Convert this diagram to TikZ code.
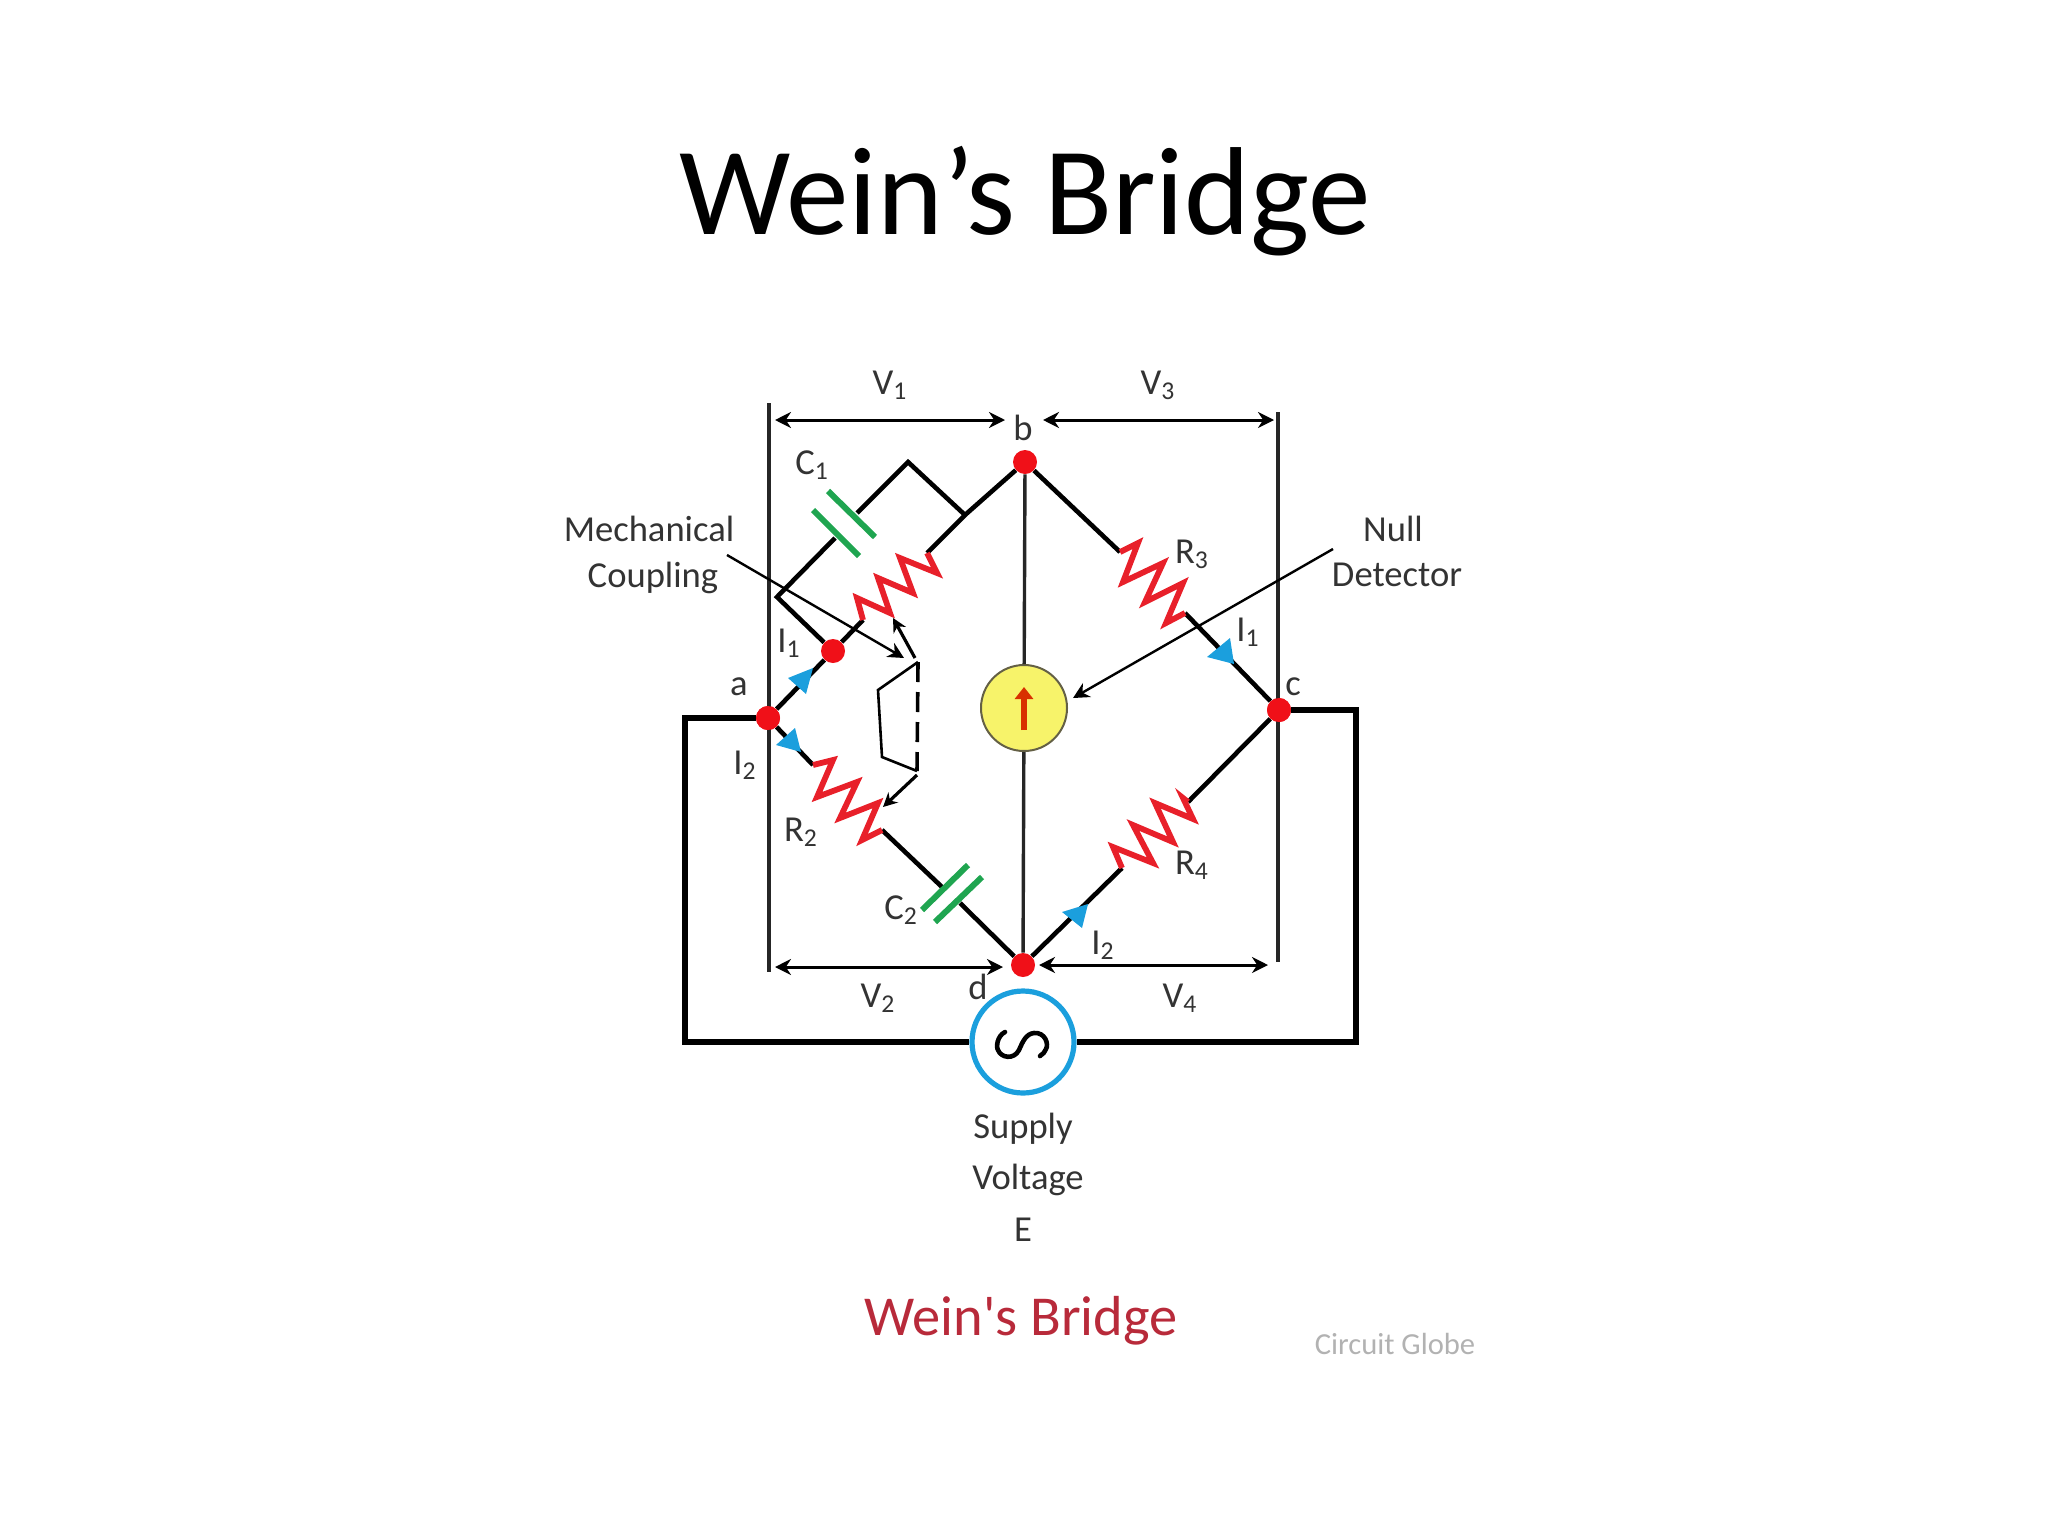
\documentclass[tikz,border=0pt]{standalone}
\usepackage{fontspec}
\setmainfont{Carlito}
\newfontfamily\plainf{Carlito}
\usetikzlibrary{arrows.meta}
\definecolor{wirered}{HTML}{E8202A}
\definecolor{dotred}{HTML}{F01018}
\definecolor{capgreen}{HTML}{1FA550}
\definecolor{tipblue}{HTML}{1B9FDD}
\definecolor{labelgray}{HTML}{333333}
\definecolor{meteryellow}{HTML}{F7F36A}
\definecolor{needlered}{HTML}{D83000}
\definecolor{captionred}{HTML}{B82A3A}
\tikzset{
  wire/.style={line width=2.3pt,black},
  thickwire/.style={line width=2.7pt,black,line join=miter},
  thinwire/.style={line width=1.7pt,black!85},
  res/.style={line width=2.9pt,wirered,line join=miter},
  capplate/.style={line width=3pt,capgreen},
  dim/.style={line width=1.5pt,black,{Stealth[length=8pt,width=8pt]}-{Stealth[length=8pt,width=8pt]}},
  lead/.style={line width=1.2pt,black,-{Stealth[length=8pt,width=8pt]}},
  mech/.style={line width=1.3pt,black},
  mecharrow/.style={line width=1.6pt,black,-{Stealth[length=7pt,width=7pt]}},
  junction/.style={circle,fill=dotred,inner sep=0pt,minimum size=12pt},
  tri/.style={fill=tipblue,draw=none},
  lab/.style={text=labelgray,font=\fontsize{18.3}{20}\selectfont,inner sep=0pt},
}
\begin{document}
\begin{tikzpicture}[x=0.5pt,y=-0.5pt]
\useasboundingbox (0,0) rectangle (2048,1536);
% title
\node[inner sep=0pt,font=\fontsize{62.6}{70}\selectfont] (title) at (1025,201) {Wein’s Bridge};
% junctions and main elements
\node[junction] (a) at (768,718) {};
\node[junction] (a2) at (833,651) {};
\node[junction] (b) at (1025,462) {};
\node[junction] (c) at (1279,710) {};
\node[junction] (d) at (1023,965) {};
\node[circle,draw=black!70!yellow,line width=1pt,fill=meteryellow,minimum size=43pt,inner sep=0pt] (g) at (1024,708) {};
\node[circle,draw=tipblue,line width=2.6pt,fill=white,minimum size=51pt,inner sep=0pt] (s) at (1023,1042) {};
% reference coordinates
\coordinate (r1s) at (863,620); \coordinate (r1e) at (927,553);
\coordinate (r2s) at (813,765); \coordinate (r2e) at (882,830);
\coordinate (r3s) at (1120,552); \coordinate (r3e) at (1185,613);
\coordinate (r4s) at (1188,802); \coordinate (r4e) at (1122,868);
\coordinate (t1) at (965,515); \coordinate (t2) at (908,462);
\coordinate (c1a) at (857,513); \coordinate (c1b) at (835,538);
\coordinate (n1) at (777,597);
\coordinate (c2a) at (942,887); \coordinate (c2b) at (960,903);
\coordinate (lt) at (685,718); \coordinate (lb) at (685,1042);
\coordinate (rt) at (1356,710); \coordinate (rb) at (1356,1042);
\coordinate (vl1) at (769,403); \coordinate (vl2) at (769,972);
\coordinate (vr1) at (1278,412); \coordinate (vr2) at (1278,962);
% wires
\draw[wire] (a) -- (a2);
\draw[wire] (a2) -- (r1s);
\draw[wire] (r1e) -- (t1) -- (b);
\draw[wire,line join=miter] (a2) -- (n1) -- (c1b);
\draw[wire,line join=miter] (c1a) -- (t2) -- (t1);
\draw[wire] (a) -- (r2s);
\draw[wire] (r2e) -- (c2a);
\draw[wire] (c2b) -- (d);
\draw[wire] (b) -- (r3s);
\draw[wire] (r3e) -- (c);
\draw[wire] (c) -- (r4s);
\draw[wire] (r4e) -- (d);
\draw[thinwire] (b) -- (g);
\draw[thinwire] (g) -- (d);
\draw[thinwire] (vl1) -- (vl2);
\draw[thinwire] (vr1) -- (vr2);
\draw[thickwire] (a) -- (lt) -- (lb) -- (s);
\draw[thickwire] (c) -- (rt) -- (rb) -- (s);
% redraw junctions above the measuring lines
\fill[dotred] (a) circle (12) (c) circle (12);
% resistors
\draw[res] (r1s) -- (857,598) -- (890,613) -- (878,578) -- (913,593) -- (900,558) -- (937,573) -- (r1e);
\draw[res] (r2s) -- (833,760) -- (817,797) -- (857,782) -- (840,818) -- (878,803) -- (862,840) -- (r2e);
\draw[res] (r3s) -- (1138,543) -- (1123,582) -- (1163,563) -- (1145,602) -- (1183,583) -- (1166,623) -- (r3e);
\draw[res] (r4s) -- (1183,798) -- (1193,819) -- (1155,803) -- (1173,842) -- (1133,825) -- (1153,863) -- (1113,847) -- (r4e);
% capacitors
\draw[capplate] (813,510) -- (859,556);
\draw[capplate] (828,491) -- (875,537);
\draw[capplate] (968,865) -- (922,910);
\draw[capplate] (982,877) -- (935,922);
% current triangles
\fill[tri] (788,678) -- (813,668) -- (806,694) -- cycle;
\fill[tri] (776,745) -- (795,728) -- (801,752) -- cycle;
\fill[tri] (1207,657) -- (1230,638) -- (1234,664) -- cycle;
\fill[tri] (1062,912) -- (1088,904) -- (1082,928) -- cycle;
% voltage dimension arrows
\coordinate (v1a) at (775,420); \coordinate (v1b) at (1005,420);
\coordinate (v3a) at (1043,420); \coordinate (v3b) at (1274,420);
\coordinate (v2a) at (775,967); \coordinate (v2b) at (1003,967);
\coordinate (v4a) at (1039,965); \coordinate (v4b) at (1268,965);
\draw[dim] (v1a) -- (v1b);
\draw[dim] (v3a) -- (v3b);
\draw[dim] (v2a) -- (v2b);
\draw[dim] (v4a) -- (v4b);
% mechanical coupling
\coordinate (m1) at (918,662); \coordinate (m2) at (878,690);
\coordinate (m3) at (882,757); \coordinate (m4) at (917,771);
\coordinate (mu) at (893,618); \coordinate (mus) at (915,658);
\coordinate (md) at (883,807); \coordinate (mds) at (917,775);
\draw[mech,line join=miter] (m1) -- (m2) -- (m3) -- (m4);
\draw[line width=1.8pt,dash pattern=on 10pt off 5pt] (m1) -- (m4);
\draw[mecharrow] (mus) -- (mu);
\draw[mecharrow] (mds) -- (md);
% meter needle
\coordinate (gn1) at (1024,730); \coordinate (gn2) at (1024,687);
\draw[line width=3pt,needlered,-{Stealth[length=6pt,width=9pt,inset=0pt]}] (gn1) -- (gn2);
% source symbol
\draw[line width=2.3pt,line cap=round] (1005,1032) .. controls (997,1036) and (996,1047) .. (998,1050)
  .. controls (1001,1058) and (1014,1060) .. (1019,1050)
  .. controls (1023,1041) and (1026,1034) .. (1034,1033)
  .. controls (1045,1032) and (1049,1044) .. (1046,1049)
  .. controls (1045,1052) and (1043,1054) .. (1040,1056);
% leader arrows
\coordinate (lm) at (727,555); \coordinate (lme) at (904,658);
\coordinate (ln) at (1333,549); \coordinate (lne) at (1073,698);
\draw[lead] (lm) -- (lme);
\draw[lead] (ln) -- (lne);
% labels
\node[lab] (tv1) at (890,385) {V\textsubscript{1}};
\node[lab] (tv3) at (1158,385) {V\textsubscript{3}};
\node[lab] (tb) at (1023,428) {b};
\node[lab] (tc1) at (812,465) {C\textsubscript{1}};
\node[lab] (tmc) at (649,529) {Mechanical};
\node[lab] (tcp) at (653,578) {Coupling};
\node[lab] (ti1) at (789,643) {I\textsubscript{1}};
\node[lab] (ta) at (739,687) {a};
\node[lab] (ti2) at (745,765) {I\textsubscript{2}};
\node[lab] (tr2) at (801,832) {R\textsubscript{2}};
\node[lab] (tc2) at (901,910) {C\textsubscript{2}};
\node[lab] (td) at (978,987) {d};
\node[lab] (tv2) at (878,998) {V\textsubscript{2}};
\node[lab] (ti2b) at (1103,945) {I\textsubscript{2}};
\node[lab] (tv4) at (1180,998) {V\textsubscript{4}};
\node[lab] (tr4) at (1192,865) {R\textsubscript{4}};
\node[lab] (tr3) at (1192,554) {R\textsubscript{3}};
\node[lab] (ti1b) at (1248,632) {I\textsubscript{1}};
\node[lab] (tcc) at (1293,687) {c};
\node[lab] (tnull) at (1393,529) {Null};
\node[lab] (tdet) at (1397,575) {Detector};
\node[lab] (tsup) at (1023,1129) {Supply};
\node[lab] (tvol) at (1028,1180) {Voltage};
\node[lab] (te) at (1023,1230) {E};
\node[inner sep=0pt,text=captionred,font=\plainf\fontsize{28.2}{30}\selectfont] (tw) at (1021,1321) {Wein's Bridge};
\node[inner sep=0pt,text=black!30,font=\fontsize{15.3}{17}\selectfont] (tg) at (1395,1344) {Circuit Globe};
\end{tikzpicture}
\end{document}
